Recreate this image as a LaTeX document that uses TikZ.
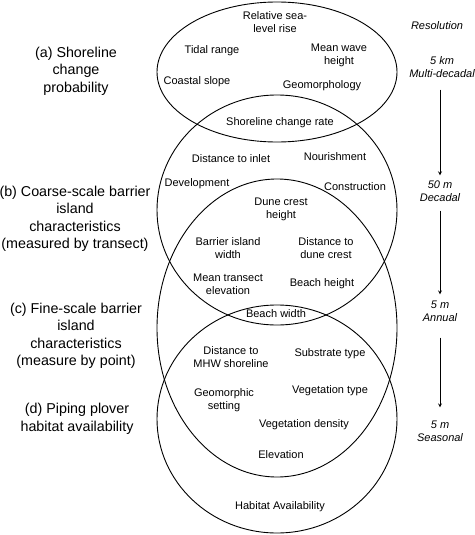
\documentclass[tikz,border=0pt]{standalone}
\usepackage{fontspec}
\setmainfont{Liberation Sans}
\begin{document}
\begin{tikzpicture}[x=1pt,y=-1pt,>=stealth,
		item/.style={align=center,font=\fontsize{11}{13}\selectfont,inner sep=0pt},
		level/.style={align=center,font=\fontsize{14.3}{17.5}\selectfont,inner sep=0pt},
		res/.style={align=center,font=\fontsize{11}{13}\selectfont\itshape,inner sep=0pt}]
	\useasboundingbox (0,0) rectangle (474,535);
	% nested sets
	\draw[line width=0.9pt] (277,72) ellipse [x radius=120pt,y radius=70pt];
	\draw[line width=0.9pt] (277,210) ellipse [x radius=120pt,y radius=115pt];
	\draw[line width=0.9pt] (277,328) ellipse [x radius=120pt,y radius=149pt];
	\draw[line width=0.9pt] (277,419) ellipse [x radius=120pt,y radius=114pt];
	% variables
	\node[item] (slr) at (275,22) {Relative sea-\\level rise};
	\node[item] (tide) at (212,51) {Tidal range};
	\node[item] (wave) at (339,55) {Mean wave\\height};
	\node[item] (slope) at (197,82) {Coastal slope};
	\node[item] (geom) at (322,86) {Geomorphology};
	\node[item] (rate) at (280,123) {Shoreline change rate};
	\node[item] (inlet) at (231,159) {Distance to inlet};
	\node[item] (nour) at (335,157) {Nourishment};
	\node[item] (dev) at (197,184) {Development};
	\node[item] (cons) at (355,187) {Construction};
	\node[item] (dune) at (281,209) {Dune crest\\height};
	\node[item] (biw) at (228,248) {Barrier island\\width};
	\node[item] (ddc) at (326,248) {Distance to\\dune crest};
	\node[item] (mte) at (228,284) {Mean transect\\elevation};
	\node[item] (bh) at (322,284) {Beach height};
	\node[item] (bw) at (276,314) {Beach width};
	\node[item] (mhw) at (231,357) {Distance to\\MHW shoreline};
	\node[item] (sub) at (330,354) {Substrate type};
	\node[item] (gset) at (224,400) {Geomorphic\\setting};
	\node[item] (vtype) at (330,391) {Vegetation type};
	\node[item] (vden) at (304,425) {Vegetation density};
	\node[item] (elev) at (281,455) {Elevation};
	\node[item] (hab) at (280,507) {Habitat Availability};
	% levels
	\node[level] (la) at (76,71) {(a) Shoreline\\change\\probability};
	\node[level] (lb) at (75,219) {(b) Coarse-scale barrier\\island\\characteristics\\(measured by transect)};
	\node[level] (lc) at (76,336) {(c) Fine-scale barrier\\island\\characteristics\\(measure by point)};
	\node[level] (ld) at (77,419) {(d) Piping plover\\habitat availability};
	% resolution
	\node[res] (title) at (437,26) {Resolution};
	\node[res] (sa) at (442,67) {5 km\\Multi-decadal};
	\node[res] (sb) at (440,191) {50 m\\Decadal};
	\node[res] (sc) at (440,311) {5 m\\Annual};
	\node[res] (sd) at (440,431) {5 m\\Seasonal};
	\foreach \a/\b/\s/\e in {sa/sb/12/5,sb/sc/9/6,sc/sd/16/13}{
		\draw[->,line width=0.8pt,shorten <=\s pt,shorten >=\e pt] (\a.south -| \b) -- (\b);
	}
\end{tikzpicture}
\end{document}
